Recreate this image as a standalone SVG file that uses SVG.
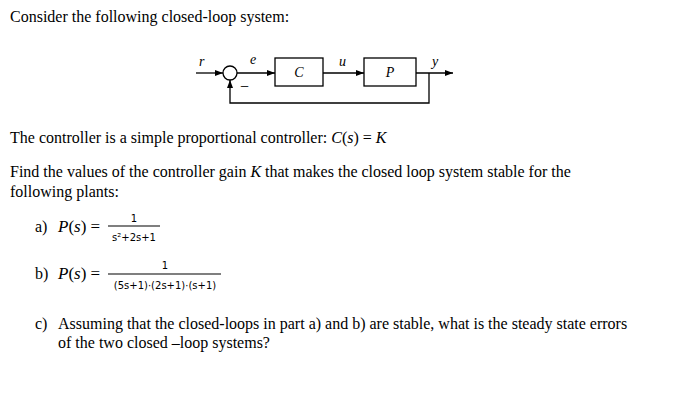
<svg xmlns="http://www.w3.org/2000/svg" width="680" height="416" viewBox="0 0 680 416">
<defs><marker id="a" markerWidth="8" markerHeight="6" refX="8" refY="3" orient="auto" markerUnits="userSpaceOnUse"><path d="M0,0L8,3L0,6z" fill="#000"/></marker>
<style>.t{font-family:"Liberation Serif",serif;font-size:16px}.q{font-family:"Liberation Serif",serif;font-size:17px}.m{font-family:"Liberation Serif",serif;font-style:italic;font-size:14px}.s{font-family:"DejaVu Sans",sans-serif;font-size:10px}.l{stroke:#000;stroke-width:1.3;fill:none}</style></defs>
<rect width="680" height="416" fill="#fff"/>
<text class="t" x="10" y="22">Consider the following closed-loop system:</text>
<g id="sum"><circle class="l" cx="230" cy="73" r="7"/></g>
<g id="C"><rect class="l" x="275" y="58" width="48" height="28"/><text class="m" x="299" y="77" text-anchor="middle">C</text></g>
<g id="P"><rect class="l" x="364" y="58" width="52" height="28"/><text class="m" x="390" y="77" text-anchor="middle">P</text></g>
<g id="conn">
<path class="l" d="M196,73H223" marker-end="url(#a)"/>
<path class="l" d="M237,73H275" marker-end="url(#a)"/>
<path class="l" d="M323,73H364" marker-end="url(#a)"/>
<path class="l" d="M416,73H453" marker-end="url(#a)"/>
<path class="l" d="M429,73V103H230V80" marker-end="url(#a)"/>
<text class="m" x="199" y="66">r</text><text class="m" x="250" y="64">e</text><text class="m" x="339" y="66">u</text><text class="m" x="432" y="66">y</text>
<text class="t" x="240" y="92">−</text>
</g>
<text class="t" x="10" y="143">The controller is a simple proportional controller: <tspan font-style="italic">C</tspan>(<tspan font-style="italic">s</tspan>) = <tspan font-style="italic">K</tspan></text>
<text class="t" x="10" y="177">Find the values of the controller gain <tspan font-style="italic">K</tspan> that makes the closed loop system stable for the</text>
<text class="t" x="10" y="197">following plants:</text>
<text class="t" x="35" y="232">a)</text><text class="q" x="58" y="232"><tspan font-style="italic">P</tspan>(<tspan font-style="italic">s</tspan>) =</text>
<text class="s" x="134" y="222" text-anchor="middle">1</text>
<path d="M108,226H160" stroke="#000" stroke-width="1.2"/>
<text class="s" x="134" y="241" text-anchor="middle">s²+2s+1</text>
<text class="t" x="35" y="279">b)</text><text class="q" x="58" y="279"><tspan font-style="italic">P</tspan>(<tspan font-style="italic">s</tspan>) =</text>
<text class="s" x="165" y="269" text-anchor="middle">1</text>
<path d="M108,274H221" stroke="#000" stroke-width="1.2"/>
<text class="s" x="165" y="289" text-anchor="middle">(5s+1)·(2s+1)·(s+1)</text>
<text class="t" x="35" y="329">c)</text><text class="t" x="58" y="329">Assuming that the closed-loops in part a) and b) are stable, what is the steady state errors</text>
<text class="t" x="58" y="348">of the two closed –loop systems?</text>
</svg>
